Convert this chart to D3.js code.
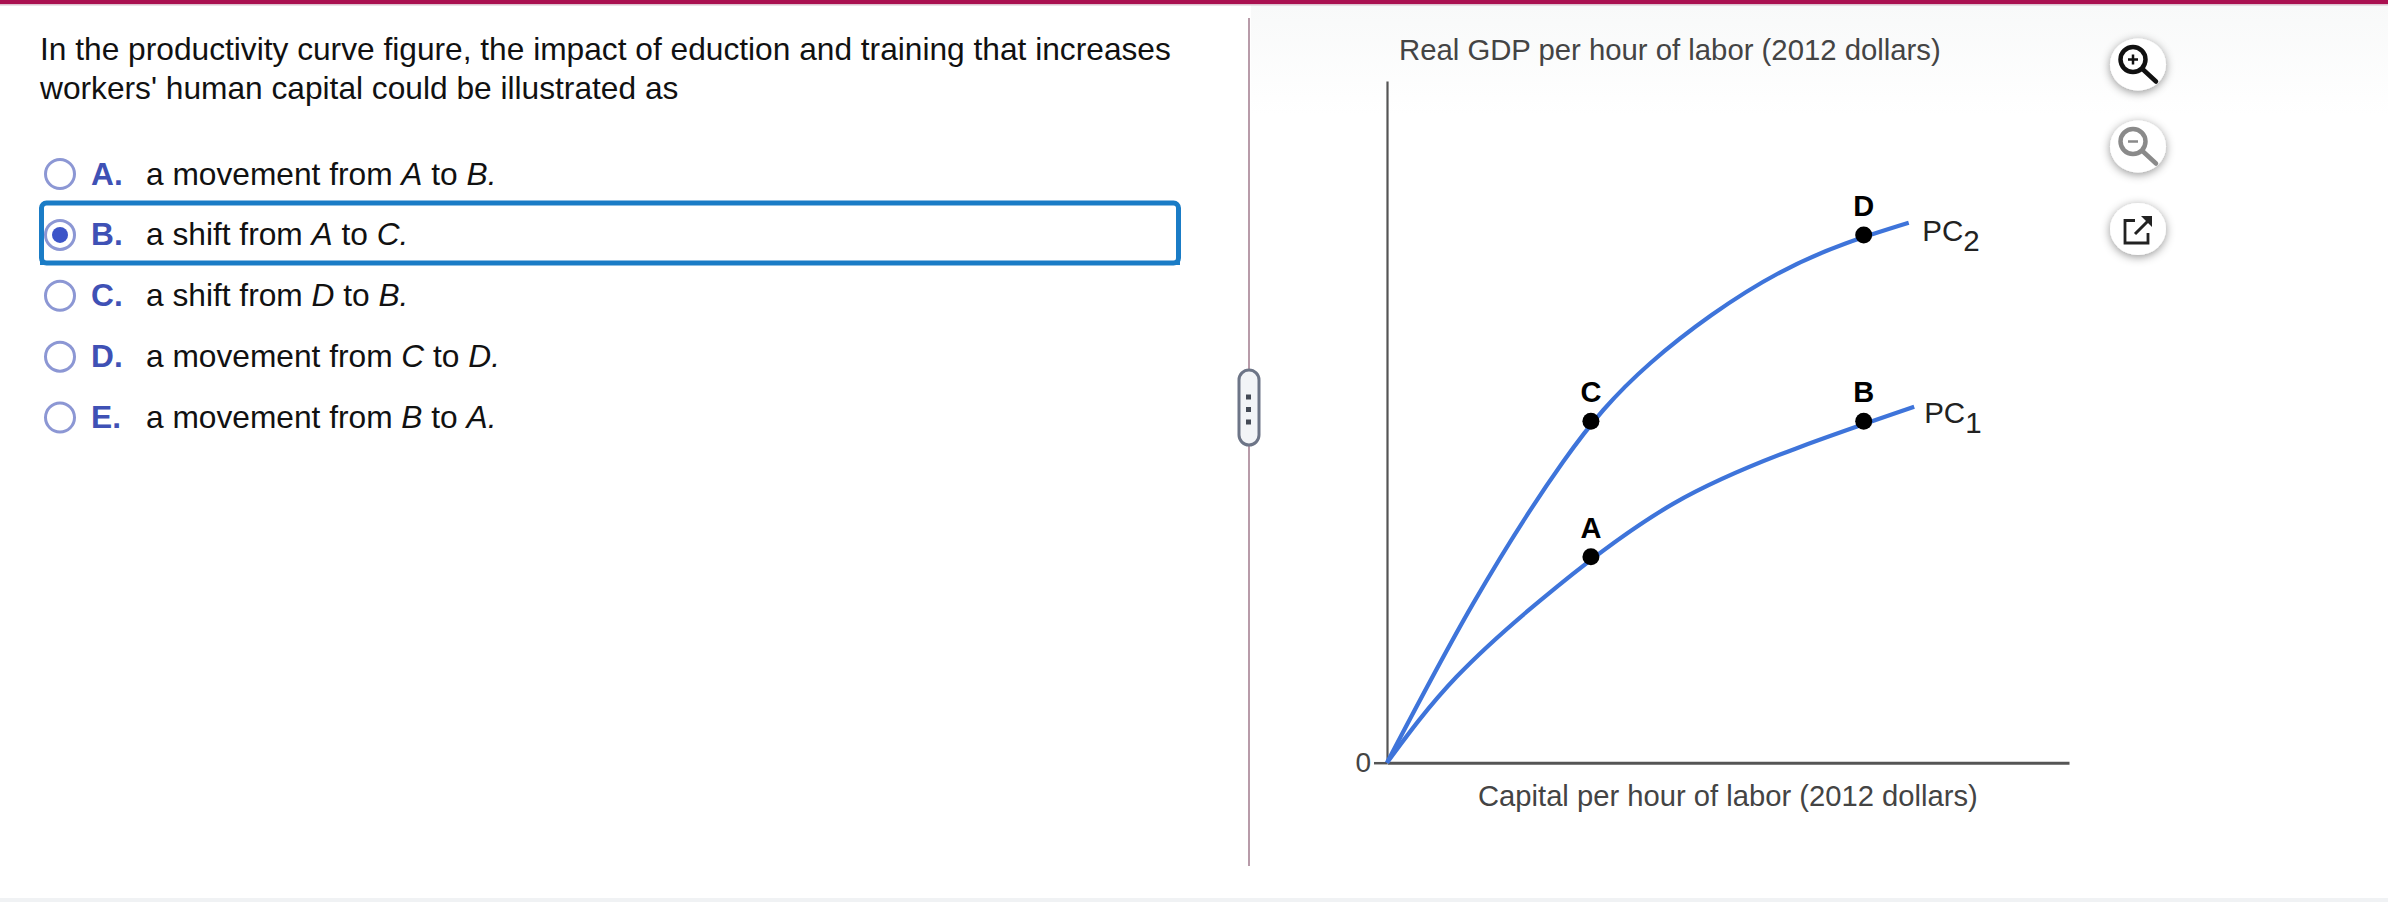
<!DOCTYPE html>
<html><head><meta charset="utf-8">
<script src="https://cdn.jsdelivr.net/npm/d3@7/dist/d3.min.js"></script>
<style>html,body{margin:0;padding:0;background:#fff;overflow:hidden}svg{display:block;font-family:"Liberation Sans",Arial,sans-serif}</style>
</head><body>
<svg id="c" width="2388" height="902" viewBox="0 0 2388 902"></svg>
<script>
// ---- data (axis units 0-100) ----
const questionLines = ["In the productivity curve figure, the impact of eduction and training that increases","workers' human capital could be illustrated as"];
const optionKeys = ["A.","B.","C.","D.","E."];
const optionPre = ["a movement from ","a shift from ","a shift from ","a movement from ","a movement from "];
const optionFrom = ["A","A","D","C","B"];
const optionTo = ["B","C","B","D","A"];
const selectedOption = 1;
const yTitle = "Real GDP per hour of labor (2012 dollars)";
const xTitle = "Capital per hour of labor (2012 dollars)";
const pc1X = [0,10.2,24.9,42.0,60.0,77.3];
const pc1Y = [0,12.6,25.8,38.0,46.1,52.2];
const pc2X = [0,12.6,25.8,38.6,57.6,76.5];
const pc2Y = [0,23.3,44.1,58.6,71.9,79.2];
const pointNames = ["A","B","C","D"];
const pointX = [29.9,69.9,29.9,69.9];
const pointY = [30.2,50.1,50.1,77.4];
const curveNames = ["PC","PC"];
const curveSubs = ["1","2"];

const svg = d3.select("#c");
const defs = svg.append("defs");
const grad = defs.append("linearGradient").attr("id","bg").attr("x1",0).attr("y1",0).attr("x2",0).attr("y2",1);
grad.append("stop").attr("offset",0).attr("stop-color","#f8f9f9");
grad.append("stop").attr("offset",1).attr("stop-color","#ffffff");
const sh = defs.append("filter").attr("id","sh").attr("x","-50%").attr("y","-50%").attr("width","200%").attr("height","200%");
sh.append("feDropShadow").attr("dx",0).attr("dy",2).attr("stdDeviation",5).attr("flood-color","#000").attr("flood-opacity",0.42);

// page chrome
svg.append("rect").attr("x",1251).attr("y",5).attr("width",1137).attr("height",110).attr("fill","url(#bg)");
svg.append("rect").attr("width",2388).attr("height",4).attr("fill","#aa1050");
svg.append("rect").attr("y",4).attr("width",2388).attr("height",1.5).attr("fill","#dcc3cf");
svg.append("rect").attr("y",898).attr("width",2388).attr("height",4).attr("fill","#f0f2f4");

// question
const Q = svg.append("g").attr("font-size",31.7).attr("fill","#111");
Q.selectAll("text").data(questionLines).join("text")
  .attr("x",40).attr("y",(d,i)=>60+i*38.5).text(d=>d);

// options
const optY = d3.scalePoint().domain(optionKeys).range([174,417.5]);
svg.append("rect").attr("x",41.5).attr("y",203).attr("width",1137).attr("height",60).attr("rx",5)
  .attr("fill","#fff").attr("stroke","#1a7cc6").attr("stroke-width",5);
svg.append("rect").attr("x",40).attr("y",261).attr("width",1140).attr("height",4).attr("fill","#1a7cc6");
const opts = svg.append("g").selectAll("g").data(optionKeys).join("g")
  .attr("transform",d=>`translate(0,${optY(d)})`);
opts.append("circle").attr("cx",60).attr("r",14.5).attr("fill","#fff").attr("stroke","#8c97d4").attr("stroke-width",3);
opts.filter((d,i)=>i===selectedOption).append("circle").attr("cx",60).attr("r",8).attr("fill","#3d55c8");
opts.append("text").attr("x",91).attr("y",10.5).attr("font-size",31.7).attr("font-weight",700).attr("fill","#3f51b5").text(d=>d);
const ot = opts.append("text").attr("x",146).attr("y",10.5).attr("font-size",31.7).attr("fill","#111");
ot.each(function(d,i){
  const t=d3.select(this);
  t.append("tspan").text(optionPre[i]);
  t.append("tspan").attr("font-style","italic").text(optionFrom[i]);
  t.append("tspan").text(" to ");
  t.append("tspan").attr("font-style","italic").text(optionTo[i]+".");
});

// divider + grip
svg.append("line").attr("x1",1249).attr("x2",1249).attr("y1",18).attr("y2",866).attr("stroke","#b89ba9").attr("stroke-width",2);
svg.append("rect").attr("x",1239).attr("y",370).attr("width",20).attr("height",75).attr("rx",10)
  .attr("fill","#f2f4f7").attr("stroke","#6d7587").attr("stroke-width",3);
svg.append("g").selectAll("rect").data([397,409.5,422]).join("rect")
  .attr("x",1246).attr("y",d=>d-2.5).attr("width",5).attr("height",5).attr("fill","#444a56");

// chart
const x = d3.scaleLinear().domain([0,100]).range([1387,2069]);
const y = d3.scaleLinear().domain([0,100]).range([762.7,81]);
const axisColor = "#555";
const gy = svg.append("g").attr("transform",`translate(${x(0)},0)`)
  .call(d3.axisLeft(y).tickValues([0]).tickSize(13).tickPadding(3).tickSizeOuter(0));
gy.select(".domain").attr("stroke",axisColor).attr("stroke-width",2.2);
gy.selectAll(".tick line").attr("stroke",axisColor).attr("stroke-width",2.5);
gy.selectAll(".tick text").attr("font-family","inherit").attr("font-size",28).attr("fill","#444").attr("dy","0.32em");
const gx = svg.append("g").attr("transform",`translate(0,${y(0)})`)
  .call(d3.axisBottom(x).tickValues([]).tickSizeOuter(0));
gx.select(".domain").attr("stroke",axisColor).attr("stroke-width",3);

svg.append("text").attr("x",1399).attr("y",60).attr("font-size",29.3).attr("fill","#444").text(yTitle);
svg.append("text").attr("x",1478).attr("y",806).attr("font-size",29.2).attr("fill","#444").text(xTitle);

const line = d3.line().x(d=>x(d[0])).y(d=>y(d[1])).curve(d3.curveNatural);
const curves = [d3.zip(pc1X,pc1Y), d3.zip(pc2X,pc2Y)];
svg.append("g").selectAll("path").data(curves).join("path")
  .attr("d",line).attr("fill","none").attr("stroke","#3e74da").attr("stroke-width",4.2);

svg.append("g").selectAll("circle").data(pointNames).join("circle")
  .attr("cx",(d,i)=>x(pointX[i])).attr("cy",(d,i)=>y(pointY[i])).attr("r",8.5).attr("fill","#000");
svg.append("g").selectAll("text").data(pointNames).join("text")
  .attr("x",(d,i)=>x(pointX[i])).attr("y",(d,i)=>y(pointY[i])-19)
  .attr("text-anchor","middle").attr("font-size",29).attr("font-weight",700).attr("fill","#000").text(d=>d);

const cl = svg.append("g").selectAll("text").data(curves).join("text")
  .attr("x",(d,i)=>x(d[d.length-1][0])+(i?13.5:10))
  .attr("y",(d,i)=>y(d[d.length-1][1])+(i?18:16))
  .attr("font-size",29.5).attr("fill","#222");
cl.append("tspan").text((d,i)=>curveNames[i]);
cl.append("tspan").attr("dy",10).attr("font-size",29.5).text((d,i)=>curveSubs[i]);

// toolbar buttons
const btnY = [64.5,146.5,229];
const btnCol = ["#111","#8a8a8a","#222"];
const btns = svg.append("g").selectAll("g").data(btnY).join("g").attr("transform",d=>`translate(2138,${d})`);
btns.append("ellipse").attr("rx",28).attr("ry",26).attr("fill","#fff").attr("filter","url(#sh)");
btns.filter((d,i)=>i<2).each(function(d,i){
  const g=d3.select(this), c=btnCol[i];
  g.append("circle").attr("cx",-5).attr("cy",-5).attr("r",12.5).attr("fill","none").attr("stroke",c).attr("stroke-width",4.5);
  g.append("line").attr("x1",5).attr("y1",5).attr("x2",18).attr("y2",17).attr("stroke",c).attr("stroke-width",4.5).attr("stroke-linecap","round");
  g.append("line").attr("x1",-10).attr("x2",0).attr("y1",-5).attr("y2",-5).attr("stroke",c).attr("stroke-width",2.5);
  if(i===0) g.append("line").attr("x1",-5).attr("x2",-5).attr("y1",-10).attr("y2",0).attr("stroke",c).attr("stroke-width",2.5);
});
const ext = btns.filter((d,i)=>i===2);
ext.append("path").attr("d","M-3,-8.5 H-13 V14 H10 V4").attr("fill","none").attr("stroke","#222").attr("stroke-width",2.8);
ext.append("path").attr("d","M-3,5 L10,-8").attr("fill","none").attr("stroke","#222").attr("stroke-width",3);
ext.append("path").attr("d","M3,-13 H14 V-2 Z").attr("fill","#222");
</script>
</body></html>
